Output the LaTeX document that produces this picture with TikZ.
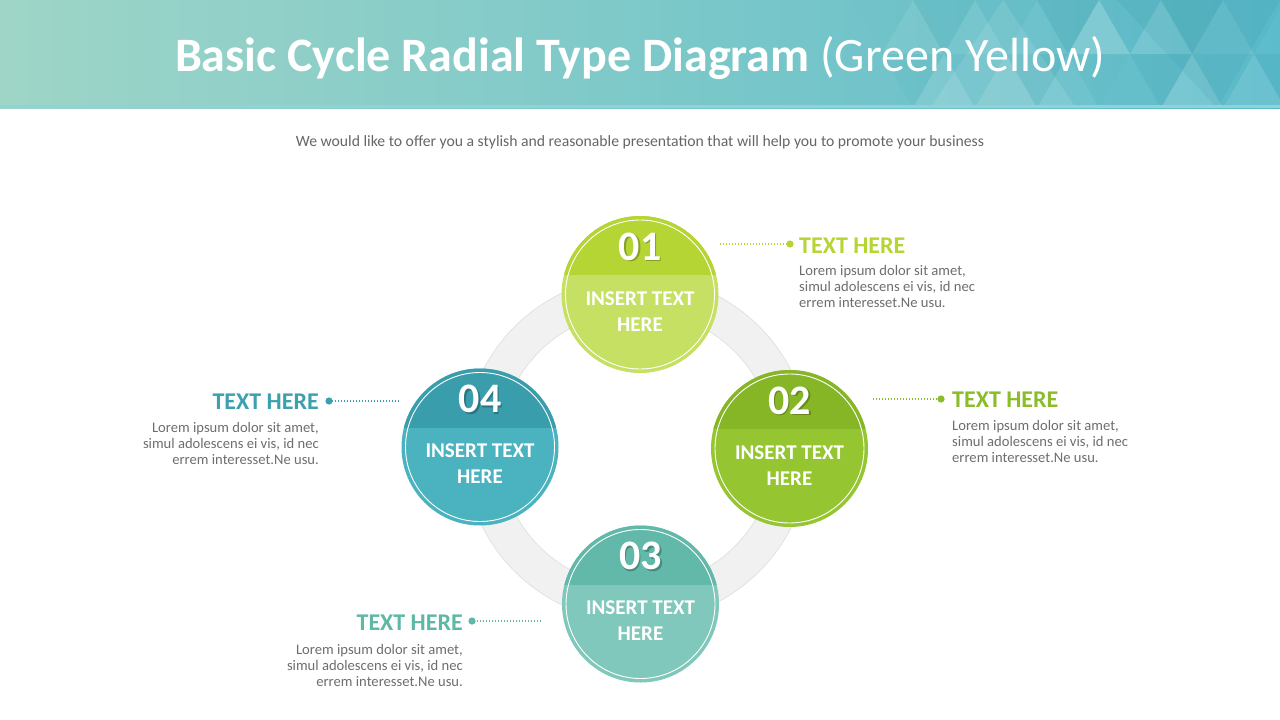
\documentclass[tikz,border=0pt]{standalone}
\usepackage{fontspec}
\setmainfont{Carlito}
\usetikzlibrary{calc}
\definecolor{hdrL}{HTML}{9ED5C7}
\definecolor{hdrR}{HTML}{5DBCCB}
\definecolor{hdrLine}{HTML}{8FD3D8}
\definecolor{triDark}{HTML}{2F8FA0}
\definecolor{subGray}{HTML}{666666}
\definecolor{loremGray}{HTML}{6E6E6E}
\definecolor{ringFill}{HTML}{F1F1F1}
\definecolor{ringEdge}{HTML}{E2E2E2}
\definecolor{aTop}{HTML}{B4D533}
\definecolor{aBot}{HTML}{C6E063}
\definecolor{aLab}{HTML}{B4D533}
\definecolor{bTop}{HTML}{86B626}
\definecolor{bBot}{HTML}{95C631}
\definecolor{bLab}{HTML}{8BBD2B}
\definecolor{cTop}{HTML}{62B9A9}
\definecolor{cBot}{HTML}{80C8BB}
\definecolor{cLab}{HTML}{5EB8A6}
\definecolor{dTop}{HTML}{3A9DAC}
\definecolor{dBot}{HTML}{4BB3C0}
\definecolor{dLab}{HTML}{3DA0AE}
\tikzset{
  disc/.style={circle, minimum size=157pt, inner sep=0pt},
  numtxt/.style={font=\fontsize{42}{42}\selectfont\bfseries, text=white},
  numshadow/.style={font=\fontsize{42}{42}\selectfont\bfseries, text=black, opacity=0.25},
  insttxt/.style={font=\fontsize{21}{26}\selectfont\bfseries, text=white, align=center},
  labtxt/.style={font=\fontsize{24}{24}\selectfont\bfseries, inner sep=0pt},
  loremtxt/.style={font=\fontsize{14.6}{16}\selectfont, text=loremGray, inner sep=0pt},
  dotline/.style={line width=1.6pt, dash pattern=on 1.4pt off 1.6pt},
}
\newcommand{\mkdisc}[5]{% name, x, y, top colour, bottom colour
  \node[disc, fill=#5] (#1) at (#2,#3) {};
  \begin{scope}
    \clip (#1.center) circle (78.5);
    \fill[#4] ($(#1.center)+(-80,-80)$) rectangle ($(#1.center)+(80,-19.5)$);
  \end{scope}
  \draw[white, line width=0.9pt] (#1.center) circle (74.5);
}
\begin{document}
\begin{tikzpicture}[x=1pt,y=-1pt]
\useasboundingbox (0,0) rectangle (1280,720);
\fill[white] (0,0) rectangle (1280,720);
% header
\shade[left color=hdrL, right color=hdrR] (0,0) rectangle (1280,108);
\begin{scope}
  \clip (0,0) rectangle (1280,106);
  \foreach \r in {0,1} {
    \foreach \k in {0,...,8} {
      \pgfmathsetmacro\xa{820+\k*62-\r*31}
      \pgfmathsetmacro\ya{\r*54}
      \pgfmathsetmacro\yb{\r*54+54}
      \pgfmathsetmacro\opa{mod(\k*5+\r*3,7)/7*0.2*min(1,(\xa-820)/200+0.2)}
      \pgfmathsetmacro\opb{mod(\k*3+\r*5+2,6)/6*0.2*min(1,(\xa-820)/200+0.2)}
      \fill[white, opacity=\opa] (\xa,\yb) -- (\xa+62,\yb) -- (\xa+31,\ya) -- cycle;
      \fill[triDark, opacity=\opb] (\xa+31,\ya) -- (\xa+93,\ya) -- (\xa+62,\yb) -- cycle;
    }
  }
  \fill[triDark, opacity=0.12] (1117,0) -- (1280,0) -- (1217,108) -- cycle;
  \fill[white, opacity=0.10] (930,108) -- (1003,0) -- (1076,108) -- cycle;
\end{scope}
\fill[hdrLine] (0,105) rectangle (1280,108);
\node[font=\fontsize{48}{48}\selectfont, text=white] (title) at (640,58)
  {\bfseries Basic Cycle Radial Type Diagram \mdseries(Green Yellow)};
\node[font=\fontsize{15.7}{16}\selectfont, text=subGray] (sub) at (640,142)
  {We would like to offer you a stylish and reasonable presentation that will help you to promote your business};
% ring
\draw[fill=ringFill, draw=ringEdge, line width=0.8pt, even odd rule]
  (637,449) circle (173) (637,449) circle (138);
% discs
\mkdisc{c1}{640}{294.5}{aTop}{aBot}
\mkdisc{c2}{789.5}{448.5}{bTop}{bBot}
\mkdisc{c3}{640.5}{604}{cTop}{cBot}
\mkdisc{c4}{480}{447}{dTop}{dBot}
% numbers and inner text
\foreach \n/\t in {c1/01,c2/02,c3/03,c4/04} {
  \node[numshadow] at ($(\n.center)+(1.5,-46.5)$) {\t};
  \node[numtxt] (\n num) at ($(\n.center)+(0,-48)$) {\t};
  \node[insttxt] (\n txt) at ($(\n.center)+(0,17)$) {INSERT TEXT\\HERE};
}
% label 01
\coordinate (s1) at (720,244);
\coordinate (d1) at (790,244);
\draw[aLab, dotline] (s1) -- (d1);
\fill[aLab] (d1) circle (3.6);
\node[labtxt, text=aLab, anchor=west] (t1) at (799,246) {TEXT HERE};
\node[loremtxt, anchor=north west, align=left] (l1) at (799,265)
  {Lorem ipsum dolor sit amet,\\simul adolescens ei vis, id nec\\errem interesset.Ne usu.};
% label 02
\coordinate (s2) at (873,399);
\coordinate (d2) at (941,399);
\draw[bLab, dotline] (s2) -- (d2);
\fill[bLab] (d2) circle (3.6);
\node[labtxt, text=bLab, anchor=west] (t2) at (952,400) {TEXT HERE};
\node[loremtxt, anchor=north west, align=left] (l2) at (952,420)
  {Lorem ipsum dolor sit amet,\\simul adolescens ei vis, id nec\\errem interesset.Ne usu.};
% label 04
\coordinate (s4) at (399,401);
\coordinate (d4) at (329,401);
\draw[dLab, dotline] (s4) -- (d4);
\fill[dLab] (d4) circle (3.6);
\node[labtxt, text=dLab, anchor=east] (t4) at (319,402) {TEXT HERE};
\node[loremtxt, anchor=north east, align=right] (l4) at (319,422)
  {Lorem ipsum dolor sit amet,\\simul adolescens ei vis, id nec\\errem interesset.Ne usu.};
% label 03
\coordinate (s3) at (541,621);
\coordinate (d3) at (472,621);
\draw[cLab, dotline] (s3) -- (d3);
\fill[cLab] (d3) circle (3.6);
\node[labtxt, text=cLab, anchor=east] (t3) at (463,623) {TEXT HERE};
\node[loremtxt, anchor=north east, align=right] (l3) at (463,644)
  {Lorem ipsum dolor sit amet,\\simul adolescens ei vis, id nec\\errem interesset.Ne usu.};
\end{tikzpicture}
\end{document}
